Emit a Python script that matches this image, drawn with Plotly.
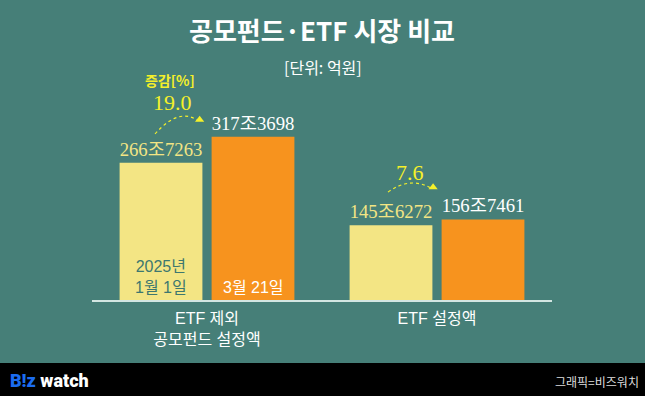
import plotly.graph_objects as go

# ---- data (unit: 억원) ----
categories = ["ETF 제외<br>공모펀드 설정액", "ETF 설정액"]
start_label = "2025년<br>1월 1일"
end_label = "3월 21일"
values_start = [2667263, 1456272]   # 2025-01-01
values_end = [3173698, 1567461]     # 2025-03-21

BG = "#467f78"
YELLOW = "#f3e584"
ORANGE = "#f7931e"
CHANGE = "#f5f02a"

R = 3.89e6          # y range top
PX = R / 200.0      # data units per pixel (plot height 200px)
W = 0.36            # bar width in category units
OFF1, OFF2 = -0.38, 0.02

def fmt(v):
    return f"{v // 10000}조{v % 10000}"

xs = list(range(len(categories)))

fig = go.Figure()
fig.add_trace(go.Bar(
    x=xs, y=values_start, width=W, offset=OFF1,
    marker=dict(color=YELLOW, line=dict(width=0)),
    text=[fmt(v) for v in values_start], textposition="outside",
    outsidetextfont=dict(family="Liberation Serif, Noto Sans CJK KR", size=22, color=YELLOW),
    cliponaxis=False, hoverinfo="skip"))
fig.add_trace(go.Bar(
    x=xs, y=values_end, width=W, offset=OFF2,
    marker=dict(color=ORANGE, line=dict(width=0)),
    text=[fmt(v) for v in values_end], textposition="outside",
    outsidetextfont=dict(family="Liberation Serif, Noto Sans CJK KR", size=22, color="white"),
    cliponaxis=False, hoverinfo="skip"))

shapes = []
annotations = []

# change arrows (dotted curves) and percentage labels
arrow_x, arrow_y = [], []
for i, (a, b) in enumerate(zip(values_start, values_end)):
    pct = (b / a - 1) * 100
    if i == 0:
        sx, sy = i - 0.226, a + 29 * PX
        cx, cy = i - 0.12, a + 56 * PX
        ex, ey = i - 0.04, a + 42 * PX
        tx, ty = i - 0.152, a + 60 * PX
    else:
        sx, sy = i - 0.213, a + 33 * PX
        cx, cy = i - 0.117, a + 49 * PX
        ex, ey = i - 0.025, a + 37 * PX
        tx, ty = i - 0.117, a + 53 * PX
    shapes.append(dict(type="path", xref="x", yref="y",
                       path=f"M {sx},{sy} Q {cx},{cy} {ex},{ey}",
                       line=dict(color=CHANGE, width=1.2, dash="dot")))
    arrow_x.append(ex + 0.008)
    arrow_y.append(ey + 1 * PX)
    annotations.append(dict(x=tx, y=ty / R, xref="x", yref="paper", text=f"{pct:.1f}",
                            showarrow=False, yanchor="middle",
                            font=dict(family="Liberation Serif", size=22, color=CHANGE)))
    if i == 0:
        annotations.append(dict(x=tx - 0.01, y=(ty + 23 * PX) / R, xref="x", yref="paper",
                                text="증감[%]", showarrow=False, yanchor="middle",
                                font=dict(family="Noto Sans CJK KR", size=14, color=CHANGE, weight=600)))

fig.add_trace(go.Scatter(x=arrow_x, y=arrow_y, mode="markers",
                         marker=dict(symbol="triangle-up", size=8, color=CHANGE),
                         hoverinfo="skip", cliponaxis=False))

# date labels inside first group's bars
annotations.append(dict(x=0 + OFF1 + W / 2, y=0, xref="x", yref="y", text=start_label,
                        showarrow=False, yanchor="bottom", yshift=2,
                        font=dict(family="Liberation Sans, Noto Sans CJK KR", size=16, color="#3d776f")))
annotations.append(dict(x=0 + OFF2 + W / 2, y=0, xref="x", yref="y", text=end_label,
                        showarrow=False, yanchor="bottom", yshift=2,
                        font=dict(family="Liberation Sans, Noto Sans CJK KR", size=16, color="white")))

# title & subtitle
annotations.append(dict(x=0.5, y=1.35, xref="paper", yref="paper", text="<b>공모펀드·ETF 시장 비교</b>",
                        showarrow=False, yanchor="middle",
                        font=dict(family="Noto Sans CJK KR", size=26, color="white")))
annotations.append(dict(x=0.503, y=1.165, xref="paper", yref="paper", text="[단위: 억원]",
                        showarrow=False, yanchor="middle",
                        font=dict(family="Noto Sans CJK KR", size=16, color="white")))

# footer
shapes.append(dict(type="rect", xref="paper", yref="paper", x0=-0.25, x1=1.25, y0=-0.55, y1=-0.315,
                   fillcolor="black", line=dict(width=0), layer="above"))
annotations.append(dict(x=-0.183, y=-0.40, xref="paper", yref="paper", xanchor="left", yanchor="middle",
                        text="<span style='color:#1b6cf0'>B!z</span> watch", showarrow=False,
                        font=dict(family="Roboto", size=18, color="white", weight=900)))
annotations.append(dict(x=1.193, y=-0.405, xref="paper", yref="paper", xanchor="right", yanchor="middle",
                        text="그래픽=비즈워치", showarrow=False,
                        font=dict(family="Noto Sans CJK KR", size=12, color="#dddddd")))

fig.update_layout(
    width=645, height=396,
    margin=dict(l=92, r=93, t=100, b=96),
    paper_bgcolor=BG, plot_bgcolor=BG,
    showlegend=False, barmode="overlay",
    shapes=shapes, annotations=annotations,
    xaxis=dict(range=[-0.5, 1.5], tickvals=xs, ticktext=categories,
               showgrid=False, zeroline=False, showline=True,
               linecolor="#d3e6e2", linewidth=2, ticks="", ticklabelstandoff=3,
               tickfont=dict(family="Liberation Sans, Noto Sans CJK KR", size=16, color="white"),
               fixedrange=True),
    yaxis=dict(range=[0, R], visible=False, fixedrange=True),
)

fig.write_html("out.html", config={"displayModeBar": False},
               post_script="document.body.style.margin='0';")
